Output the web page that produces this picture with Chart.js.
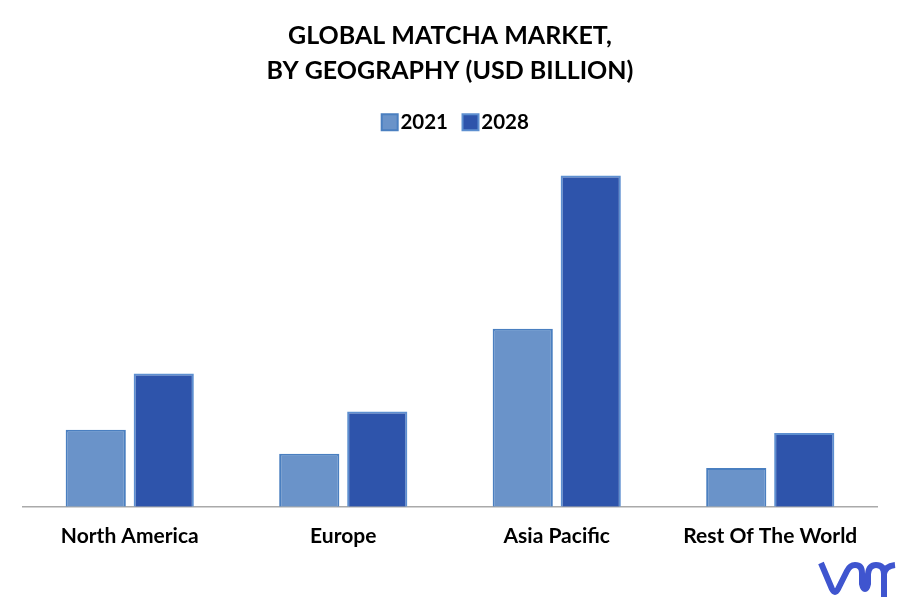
<!DOCTYPE html>
<html><head><meta charset="utf-8">
<style>html,body{margin:0;padding:0;background:#fff}#w{position:relative;width:901px;height:598px}
canvas{display:block}svg{position:absolute;left:818px;top:560px}</style>
<script src="https://cdn.jsdelivr.net/npm/chart.js@4"></script></head>
<body><div id="w"><canvas id="c" width="901" height="598"></canvas>
<svg width="80" height="38" viewBox="0 0 80 38"><path d="M3 3 L14 29 Q17 35 20 29 L29 11 Q32 5 37 5 Q44 5 44 13 L44 24 Q45 29 47 29 Q49 29 50 24 L50 14 Q51 5 58 5 Q66 5 66 14 L66 37 M66 14 Q67 6 77 5" fill="none" stroke="#3f55cf" stroke-width="6" stroke-linecap="butt" stroke-linejoin="round"/></svg></div>
<script>
const categories=["North America","Europe","Asia Pacific","Rest Of The World"];
const seriesNames=["2021","2028"];
const values2021=[0.93,0.64,2.15,0.47];
const values2028=[1.61,1.15,4.0,0.89];
const titleLines=["GLOBAL MATCHA MARKET,","BY GEOGRAPHY (USD BILLION)"];
const FONT="Lato, 'Open Sans', sans-serif";
const legendShift={id:'legendShift',afterLayout(chart){if(chart.legend&&chart.legend.lineWidths)chart.legend.lineWidths[0]-=18;}};
new Chart(document.getElementById('c'),{
 type:'bar',
 plugins:[legendShift],
 data:{labels:categories,datasets:[
  {label:seriesNames[0],data:values2021,backgroundColor:'#6a93c9',borderColor:'#4a7fc0',borderWidth:2},
  {label:seriesNames[1],data:values2028,backgroundColor:'#2e54ab',borderColor:'#5d8fd0',borderWidth:2}]},
 options:{responsive:false,animation:false,devicePixelRatio:1,
  layout:{padding:{left:23,right:24,top:18,bottom:32}},
  categoryPercentage:0.637,barPercentage:0.885,
  plugins:{
   title:{display:true,text:titleLines,color:'#000',font:{family:FONT,size:25,weight:'bold',lineHeight:1.4},padding:{top:0,bottom:2}},
   legend:{display:true,position:'top',labels:{color:'#000',font:{family:FONT,size:20.5,weight:'bold'},usePointStyle:true,pointStyle:'rect',boxWidth:1,boxHeight:16,padding:22}},
   tooltip:{enabled:false}},
  scales:{
   x:{grid:{display:false,drawTicks:false},border:{color:'#aaaaaa',width:1.5},ticks:{color:'#000',font:{family:FONT,size:21,weight:'bold'},padding:17,maxRotation:0}},
   y:{display:false,min:0,max:4.4}}
 }});
</script></body></html>
